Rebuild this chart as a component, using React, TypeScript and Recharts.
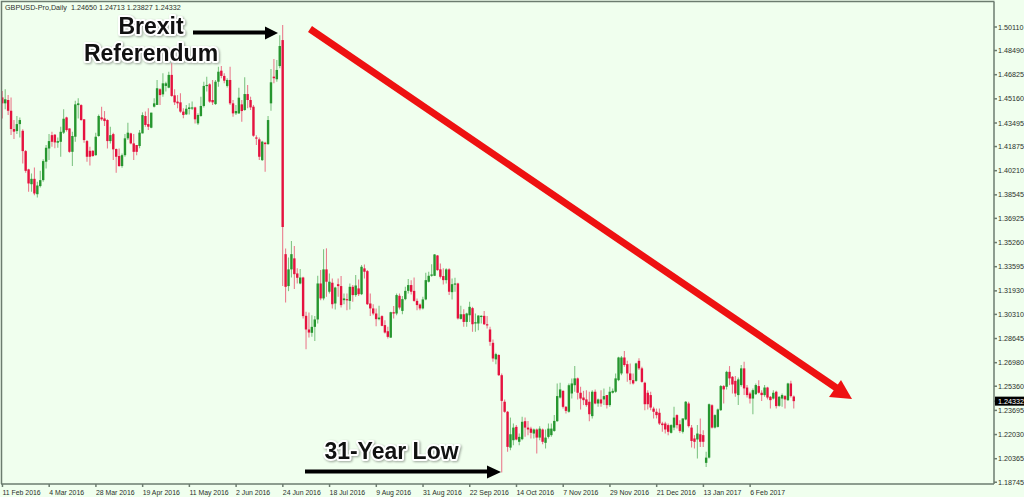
import { ComposedChart, Bar, XAxis, YAxis } from 'recharts';

// ── Data ──

const dateLabels = [
  '11 Feb 2016', '4 Mar 2016', '28 Mar 2016', '19 Apr 2016', '11 May 2016', '2 Jun 2016',
  '24 Jun 2016', '18 Jul 2016', '9 Aug 2016', '31 Aug 2016', '22 Sep 2016', '14 Oct 2016',
  '7 Nov 2016', '29 Nov 2016', '21 Dec 2016', '13 Jan 2017', '6 Feb 2017',
];
const barsPerLabel = 16;
const emptySlots = 68;

const priceTicks = [
  1.5011, 1.4849, 1.46825, 1.4516, 1.43495, 1.41875, 1.4021, 1.38545, 1.36925, 1.3526,
  1.33595, 1.3193, 1.3031, 1.28645, 1.2698, 1.2536, 1.24332, 1.23695, 1.2203, 1.20365, 1.18745,
];
const lastPrice = 1.24332;

const opens = [
  1.4526, 1.4485, 1.4508, 1.4434, 1.4308, 1.4294, 1.4342, 1.4296, 1.4156, 1.4030,
  1.3928, 1.3965, 1.3859, 1.3915, 1.3956, 1.4083, 1.4174, 1.4266, 1.4269, 1.4214,
  1.4220, 1.4283, 1.4388, 1.4312, 1.4151, 1.4255, 1.4473, 1.4473, 1.4375, 1.4225,
  1.4158, 1.4158, 1.4128, 1.4260, 1.4388, 1.4381, 1.4370, 1.4225, 1.4273, 1.4170,
  1.4122, 1.4053, 1.4128, 1.4244, 1.4278, 1.4209, 1.4198, 1.4191, 1.4278, 1.4398,
  1.4342, 1.4317, 1.4462, 1.4474, 1.4582, 1.4547, 1.4605, 1.4593, 1.4681, 1.4540,
  1.4497, 1.4492, 1.4428, 1.4409, 1.4446, 1.4451, 1.4457, 1.4347, 1.4398, 1.4467,
  1.4605, 1.4616, 1.4508, 1.4480, 1.4634, 1.4710, 1.4674, 1.4605, 1.4646, 1.4485,
  1.4416, 1.4416, 1.4478, 1.4439, 1.4549, 1.4508, 1.4462, 1.4250, 1.4237, 1.4094,
  1.4214, 1.4204, 1.4485, 1.4669, 1.4651, 1.4742, 1.4921, 1.3446, 1.3226, 1.3341,
  1.3417, 1.3313, 1.3244, 1.3285, 1.3021, 1.2927, 1.2904, 1.2945, 1.2996, 1.3244,
  1.3141, 1.3341, 1.3187, 1.3249, 1.3106, 1.3239, 1.3226, 1.3129, 1.3136, 1.3124,
  1.3221, 1.3164, 1.3210, 1.3170, 1.3348, 1.3329, 1.3106, 1.3072, 1.3037, 1.2998,
  1.3019, 1.2957, 1.2915, 1.2871, 1.3046, 1.3037, 1.3159, 1.3055, 1.3136, 1.3193,
  1.3233, 1.3193, 1.3124, 1.3099, 1.3072, 1.3134, 1.3256, 1.3297, 1.3297, 1.3437,
  1.3341, 1.3295, 1.3267, 1.3341, 1.3184, 1.3239, 1.3244, 1.3000, 1.3032, 1.2979,
  1.3025, 1.3074, 1.2968, 1.2968, 1.3014, 1.3021, 1.2963, 1.2927, 1.2835, 1.2721,
  1.2751, 1.2612, 1.2429, 1.2360, 1.2113, 1.2164, 1.2256, 1.2153, 1.2171, 1.2295,
  1.2251, 1.2244, 1.2210, 1.2238, 1.2182, 1.2238, 1.2146, 1.2187, 1.2199, 1.2228,
  1.2295, 1.2458, 1.2504, 1.2394, 1.2360, 1.2486, 1.2543, 1.2590, 1.2491, 1.2458,
  1.2445, 1.2429, 1.2330, 1.2498, 1.2417, 1.2445, 1.2445, 1.2475, 1.2406, 1.2491,
  1.2498, 1.2578, 1.2624, 1.2734, 1.2688, 1.2624, 1.2578, 1.2573, 1.2711, 1.2659,
  1.2560, 1.2491, 1.2475, 1.2382, 1.2360, 1.2353, 1.2279, 1.2279, 1.2268, 1.2215,
  1.2251, 1.2337, 1.2274, 1.2222, 1.2307, 1.2417, 1.2251, 1.2176, 1.2169, 1.2205,
  1.2199, 1.2008, 1.2044, 1.2405, 1.2251, 1.2256, 1.2371, 1.2537, 1.2532, 1.2635,
  1.2601, 1.2573, 1.2475, 1.2544, 1.2659, 1.2527, 1.2486, 1.2451, 1.2481, 1.2537,
  1.2491, 1.2475, 1.2527, 1.2463, 1.2451, 1.2498, 1.2401, 1.2451, 1.2468, 1.2440,
  1.2555, 1.2465,
];

const highs = [
  1.4570, 1.4582, 1.4543, 1.4526, 1.4370, 1.4398, 1.4388, 1.4306, 1.4163, 1.4034,
  1.4002, 1.4043, 1.3944, 1.4020, 1.4099, 1.4198, 1.4273, 1.4289, 1.4273, 1.4250,
  1.4324, 1.4444, 1.4393, 1.4312, 1.4289, 1.4503, 1.4520, 1.4478, 1.4375, 1.4232,
  1.4186, 1.4163, 1.4283, 1.4409, 1.4462, 1.4432, 1.4375, 1.4324, 1.4283, 1.4174,
  1.4174, 1.4140, 1.4273, 1.4352, 1.4283, 1.4273, 1.4198, 1.4301, 1.4423, 1.4428,
  1.4451, 1.4421, 1.4520, 1.4646, 1.4589, 1.4692, 1.4634, 1.4703, 1.4761, 1.4582,
  1.4542, 1.4554, 1.4451, 1.4474, 1.4485, 1.4497, 1.4462, 1.4416, 1.4531, 1.4634,
  1.4669, 1.4623, 1.4646, 1.4646, 1.4738, 1.4743, 1.4692, 1.4658, 1.4738, 1.4508,
  1.4474, 1.4593, 1.4508, 1.4664, 1.4612, 1.4531, 1.4474, 1.4266, 1.4250, 1.4227,
  1.4221, 1.4398, 1.4722, 1.4791, 1.4784, 1.4955, 1.5025, 1.3485, 1.3423, 1.3536,
  1.3502, 1.3348, 1.3343, 1.3290, 1.3049, 1.3044, 1.3025, 1.3019, 1.3297, 1.3336,
  1.3479, 1.3486, 1.3313, 1.3279, 1.3221, 1.3279, 1.3295, 1.3175, 1.3175, 1.3244,
  1.3233, 1.3302, 1.3272, 1.3371, 1.3375, 1.3336, 1.3175, 1.3101, 1.3072, 1.3090,
  1.3025, 1.2991, 1.2945, 1.3049, 1.3088, 1.3175, 1.3175, 1.3157, 1.3221, 1.3274,
  1.3267, 1.3285, 1.3141, 1.3106, 1.3152, 1.3318, 1.3325, 1.3377, 1.3446, 1.3440,
  1.3382, 1.3348, 1.3348, 1.3348, 1.3279, 1.3283, 1.3249, 1.3090, 1.3067, 1.3042,
  1.3118, 1.3083, 1.3037, 1.3025, 1.3025, 1.3055, 1.3019, 1.2945, 1.2858, 1.2767,
  1.2757, 1.2624, 1.2445, 1.2366, 1.2320, 1.2279, 1.2268, 1.2210, 1.2325, 1.2320,
  1.2297, 1.2256, 1.2244, 1.2244, 1.2261, 1.2244, 1.2238, 1.2279, 1.2279, 1.2337,
  1.2555, 1.2560, 1.2509, 1.2399, 1.2555, 1.2590, 1.2675, 1.2596, 1.2532, 1.2504,
  1.2509, 1.2498, 1.2509, 1.2514, 1.2451, 1.2509, 1.2521, 1.2475, 1.2532, 1.2521,
  1.2624, 1.2739, 1.2744, 1.2778, 1.2711, 1.2693, 1.2624, 1.2698, 1.2728, 1.2670,
  1.2566, 1.2509, 1.2498, 1.2394, 1.2382, 1.2382, 1.2291, 1.2291, 1.2279, 1.2274,
  1.2394, 1.2343, 1.2302, 1.2314, 1.2435, 1.2429, 1.2268, 1.2199, 1.2268, 1.2314,
  1.2233, 1.2084, 1.2417, 1.2412, 1.2343, 1.2382, 1.2544, 1.2544, 1.2642, 1.2675,
  1.2606, 1.2606, 1.2596, 1.2682, 1.2704, 1.2544, 1.2498, 1.2521, 1.2555, 1.2578,
  1.2509, 1.2544, 1.2532, 1.2468, 1.2509, 1.2504, 1.2468, 1.2486, 1.2475, 1.2560,
  1.2573, 1.24713,
];

const lows = [
  1.4381, 1.4444, 1.4404, 1.4267, 1.4239, 1.4273, 1.4250, 1.4071, 1.4007, 1.3876,
  1.3876, 1.3852, 1.3836, 1.3905, 1.3944, 1.4036, 1.4094, 1.4186, 1.4175, 1.4179,
  1.4117, 1.4273, 1.4290, 1.4145, 1.4053, 1.4220, 1.4381, 1.4365, 1.4214, 1.4083,
  1.4057, 1.4117, 1.4124, 1.4255, 1.4365, 1.4329, 1.4174, 1.4209, 1.4094, 1.4007,
  1.4048, 1.4041, 1.4117, 1.4232, 1.4204, 1.4094, 1.4128, 1.4175, 1.4278, 1.4324,
  1.4301, 1.4313, 1.4457, 1.4474, 1.4474, 1.4531, 1.4566, 1.4589, 1.4531, 1.4474,
  1.4451, 1.4421, 1.4382, 1.4405, 1.4409, 1.4439, 1.4347, 1.4336, 1.4393, 1.4457,
  1.4566, 1.4489, 1.4474, 1.4474, 1.4600, 1.4658, 1.4623, 1.4595, 1.4474, 1.4393,
  1.4405, 1.4411, 1.4358, 1.4434, 1.4451, 1.4439, 1.4255, 1.4198, 1.4094, 1.4087,
  1.4014, 1.4200, 1.4434, 1.4623, 1.4634, 1.4726, 1.3226, 1.3113, 1.3191, 1.3285,
  1.3205, 1.3244, 1.3239, 1.3003, 1.2791, 1.2871, 1.2876, 1.2848, 1.2968, 1.3129,
  1.3129, 1.3152, 1.3175, 1.3072, 1.3065, 1.3152, 1.3078, 1.3101, 1.3060, 1.3065,
  1.3118, 1.3152, 1.3157, 1.3164, 1.3279, 1.3095, 1.3019, 1.3025, 1.2950, 1.2991,
  1.2950, 1.2899, 1.2865, 1.2869, 1.3003, 1.3025, 1.3065, 1.3032, 1.3129, 1.3175,
  1.3168, 1.3118, 1.3060, 1.3060, 1.3065, 1.3129, 1.3251, 1.3290, 1.3295, 1.3331,
  1.3279, 1.3237, 1.3244, 1.3164, 1.3134, 1.3187, 1.2996, 1.2996, 1.2945, 1.2945,
  1.2979, 1.2911, 1.2911, 1.2922, 1.2968, 1.2957, 1.2933, 1.2814, 1.2704, 1.2688,
  1.2606, 1.1941, 1.2353, 1.2084, 1.2095, 1.2130, 1.2164, 1.2130, 1.2164, 1.2187,
  1.2199, 1.2176, 1.2176, 1.2072, 1.2164, 1.2136, 1.2107, 1.2176, 1.2187, 1.2222,
  1.2291, 1.2451, 1.2382, 1.2348, 1.2353, 1.2451, 1.2498, 1.2445, 1.2376, 1.2406,
  1.2394, 1.2295, 1.2314, 1.2412, 1.2394, 1.2394, 1.2406, 1.2382, 1.2394, 1.2486,
  1.2491, 1.2571, 1.2612, 1.2670, 1.2566, 1.2550, 1.2548, 1.2566, 1.2647, 1.2560,
  1.2371, 1.2376, 1.2371, 1.2314, 1.2314, 1.2268, 1.2222, 1.2210, 1.2199, 1.2210,
  1.2233, 1.2244, 1.2215, 1.2210, 1.2302, 1.2251, 1.2113, 1.2107, 1.2038, 1.2118,
  1.2118, 1.1980, 1.2038, 1.2244, 1.2244, 1.2251, 1.2366, 1.2417, 1.2514, 1.2543,
  1.2486, 1.2463, 1.2406, 1.2532, 1.2475, 1.2458, 1.2417, 1.2343, 1.2475, 1.2486,
  1.2435, 1.2463, 1.2445, 1.2382, 1.2445, 1.2382, 1.2394, 1.2394, 1.2382, 1.2435,
  1.2458, 1.23827,
];

const closes = [
  1.4485, 1.4513, 1.4434, 1.4308, 1.4290, 1.4342, 1.4370, 1.4156, 1.4020, 1.3933,
  1.3965, 1.3864, 1.3919, 1.3956, 1.4087, 1.4179, 1.4225, 1.4220, 1.4216, 1.4225,
  1.4289, 1.4379, 1.4301, 1.4151, 1.4260, 1.4478, 1.4485, 1.4370, 1.4232, 1.4117,
  1.4117, 1.4122, 1.4255, 1.4398, 1.4375, 1.4363, 1.4225, 1.4266, 1.4168, 1.4117,
  1.4053, 1.4128, 1.4244, 1.4283, 1.4209, 1.4151, 1.4151, 1.4283, 1.4404, 1.4336,
  1.4324, 1.4421, 1.4485, 1.4589, 1.4542, 1.4623, 1.4623, 1.4681, 1.4536, 1.4492,
  1.4485, 1.4428, 1.4405, 1.4448, 1.4457, 1.4457, 1.4375, 1.4405, 1.4467, 1.4605,
  1.4612, 1.4497, 1.4492, 1.4634, 1.4703, 1.4674, 1.4641, 1.4646, 1.4485, 1.4416,
  1.4432, 1.4524, 1.4432, 1.4549, 1.4508, 1.4457, 1.4262, 1.4243, 1.4117, 1.4221,
  1.4204, 1.4370, 1.4630, 1.4658, 1.4715, 1.4880, 1.3633, 1.3221, 1.3341, 1.3446,
  1.3308, 1.3283, 1.3285, 1.3019, 1.2927, 1.2906, 1.2945, 1.2996, 1.3244, 1.3141,
  1.3341, 1.3256, 1.3256, 1.3101, 1.3216, 1.3226, 1.3095, 1.3141, 1.3129, 1.3221,
  1.3164, 1.3230, 1.3170, 1.3359, 1.3325, 1.3101, 1.3072, 1.3037, 1.2998, 1.3009,
  1.2952, 1.2906, 1.2876, 1.3046, 1.3037, 1.3164, 1.3078, 1.3136, 1.3193, 1.3233,
  1.3187, 1.3124, 1.3095, 1.3072, 1.3134, 1.3267, 1.3297, 1.3306, 1.3444, 1.3336,
  1.3290, 1.3267, 1.3341, 1.3187, 1.3239, 1.3244, 1.3003, 1.3032, 1.2979, 1.3037,
  1.3083, 1.2963, 1.2977, 1.3023, 1.3021, 1.2963, 1.2959, 1.2842, 1.2727, 1.2757,
  1.2612, 1.2435, 1.2360, 1.2118, 1.2205, 1.2251, 1.2169, 1.2187, 1.2291, 1.2251,
  1.2238, 1.2215, 1.2238, 1.2182, 1.2244, 1.2153, 1.2182, 1.2244, 1.2244, 1.2297,
  1.2468, 1.2514, 1.2394, 1.2366, 1.2543, 1.2555, 1.2590, 1.2491, 1.2451, 1.2440,
  1.2406, 1.2343, 1.2498, 1.2417, 1.2445, 1.2417, 1.2468, 1.2406, 1.2498, 1.2504,
  1.2590, 1.2734, 1.2734, 1.2682, 1.2624, 1.2578, 1.2555, 1.2693, 1.2659, 1.2566,
  1.2412, 1.2412, 1.2389, 1.2360, 1.2337, 1.2279, 1.2268, 1.2238, 1.2222, 1.2268,
  1.2320, 1.2268, 1.2228, 1.2314, 1.2429, 1.2261, 1.2159, 1.2153, 1.2210, 1.2153,
  1.2153, 1.2044, 1.2412, 1.2251, 1.2337, 1.2376, 1.2537, 1.2514, 1.2635, 1.2590,
  1.2548, 1.2486, 1.2583, 1.2659, 1.2521, 1.2475, 1.2451, 1.2509, 1.2544, 1.2491,
  1.2475, 1.2527, 1.2458, 1.2440, 1.2491, 1.2399, 1.2463, 1.2475, 1.2445, 1.2555,
  1.2468, 1.24332,
];

// ── Colours ──

const BG = '#F0FFEE';
const FRAME = '#6C7C6F';
const TEXT = '#2B302B';
const UP = '#26962F';
const DOWN = '#E5123F';
const ARROW_RED = '#EE1111';

// ── Table for the chart (empty slots keep the free space right of the last bar) ──

const rows = [
  ...opens.map((open, i) => ({ i, open, high: highs[i], low: lows[i], close: closes[i] })),
  ...Array.from({ length: emptySlots }, (_, k) => ({ i: opens.length + k })),
];
const dateTicks = dateLabels.map((_, k) => k * barsPerLabel);

// ── Candle ──

function Candle({ x, y, width, height, payload }: any) {
  if (payload.high == null) return null;
  const unit = height / (payload.high - payload.low);
  const top = y + (payload.high - Math.max(payload.open, payload.close)) * unit;
  const bodyH = Math.abs(payload.open - payload.close) * unit;
  const color = payload.close >= payload.open ? UP : DOWN;
  const mid = x + width / 2;
  return (
    <g>
      <line x1={mid} x2={mid} y1={y} y2={y + height} stroke={color} strokeOpacity={0.55} strokeWidth={1.1} />
      <rect x={mid - 1.2} y={top} width={2.4} height={Math.max(bodyH, 1.2)} fill={color} />
    </g>
  );
}

// ── Axis ticks ──

function DateTick({ x, y, payload }: any) {
  return (
    <text x={x} y={y + 5.5} fontSize={6.9} fill={TEXT} textAnchor="start" fontFamily="Liberation Sans">
      {dateLabels[payload.value / barsPerLabel]}
    </text>
  );
}

function PriceTick({ y, payload }: any) {
  const isLast = payload.value === lastPrice;
  return (
    <g>
      {isLast && <rect x={995} y={y - 4.5} width={29} height={9} fill="#000" />}
      <text
        x={998}
        y={y + 2.5}
        fontSize={7.2}
        fill={isLast ? '#fff' : TEXT}
        textAnchor="start"
        fontFamily="Liberation Sans"
      >
        {payload.value.toFixed(5)}
      </text>
    </g>
  );
}

// ── Annotations ──

function Note({ x, y, children }: any) {
  return (
    <text
      x={x}
      y={y}
      textAnchor="middle"
      fontFamily="Liberation Sans"
      fontWeight={700}
      fontSize={23}
      fill="#111"
      stroke="#fff"
      strokeWidth={4}
      strokeLinejoin="round"
      paintOrder="stroke"
      style={{ filter: 'drop-shadow(1px 1px 1px rgba(0,0,0,0.35))' }}
    >
      {children}
    </text>
  );
}

function Annotations() {
  return (
    <svg width={1024} height={497} style={{ position: 'absolute', left: 0, top: 0, pointerEvents: 'none' }}>
      <path d="M1.5 484V1.5H994.5" fill="none" stroke={FRAME} strokeWidth={1.5} />
      <line x1={310} y1={29} x2={838} y2={389} stroke={ARROW_RED} strokeWidth={7} />
      <polygon points="852,399 829,397 841,380" fill={ARROW_RED} />
      <line x1={193} y1={32.5} x2={266} y2={32.5} stroke="#000" strokeWidth={4} />
      <polygon points="278,33 265,26.5 265,39.5" fill="#000" />
      <line x1={305} y1={471.5} x2={488} y2={471.5} stroke="#000" strokeWidth={4} />
      <polygon points="501,472 487,465.5 487,478.5" fill="#000" />
      <Note x={151} y={34}>Brexit</Note>
      <Note x={151} y={61}>Referendum</Note>
      <Note x={391.5} y={459}>31-Year Low</Note>
      <text x={5} y={9.5} fontSize={7.2} fill={TEXT} fontFamily="Liberation Sans">
        GBPUSD-Pro,Daily{'\u00A0\u00A0'}1.24650 1.24713 1.23827 1.24332
      </text>
    </svg>
  );
}

// ── Chart ──

export default function App() {
  return (
    <div style={{ position: 'absolute', left: 0, top: 0, width: 1024, height: 497, background: BG, overflow: 'hidden' }}>
      <ComposedChart width={1024} height={497} data={rows} margin={{ left: 1, right: 0, top: 2, bottom: 0 }}>
        <XAxis
          dataKey="i"
          type="category"
          ticks={dateTicks}
          interval={0}
          height={13}
          tick={<DateTick />}
          tickSize={3}
          stroke={FRAME}
          strokeWidth={1.5}
        />
        <YAxis
          orientation="right"
          type="number"
          domain={[1.18623, 1.51833]}
          allowDataOverflow
          ticks={priceTicks}
          interval={0}
          width={30}
          tick={<PriceTick />}
          tickSize={3}
          stroke={FRAME}
          strokeWidth={1.5}
        />
        <Bar
          dataKey={(d: any) => (d.high == null ? null : [d.low, d.high])}
          shape={<Candle />}
          isAnimationActive={false}
        />
      </ComposedChart>
      <Annotations />
    </div>
  );
}
